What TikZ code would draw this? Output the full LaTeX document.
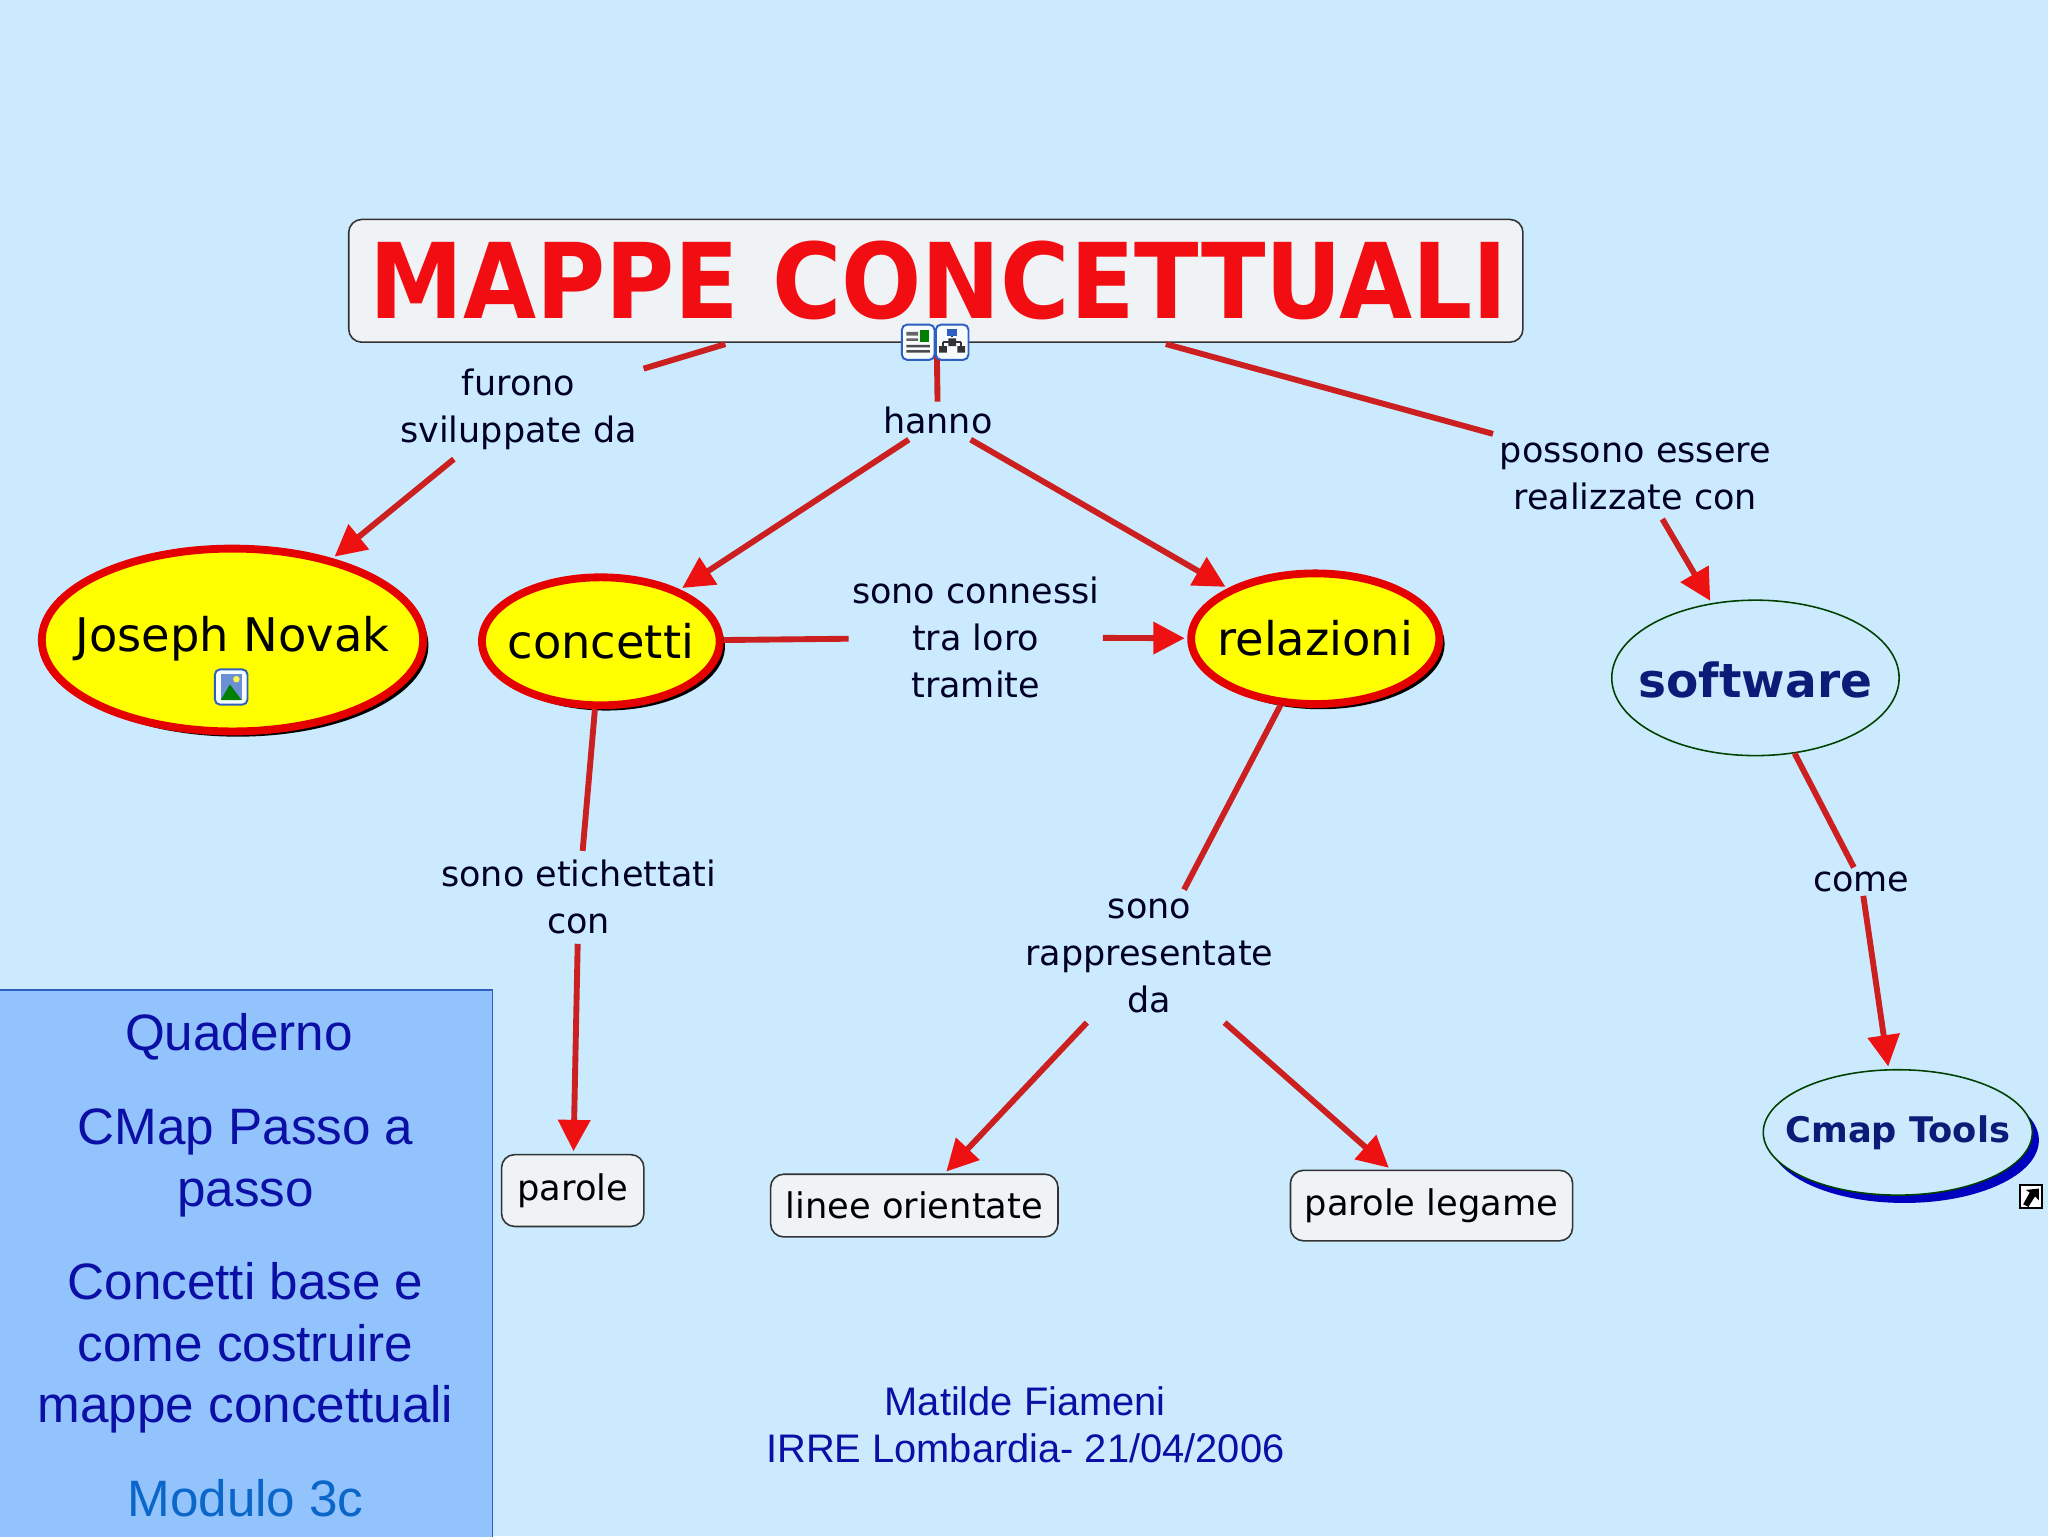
\documentclass[tikz,border=0pt]{standalone}
\usepackage{fontspec}
\setmainfont{DejaVu Sans}
\newfontfamily\arialfont{Liberation Sans}
\usetikzlibrary{arrows.meta,shapes.geometric,shadows}
\definecolor{bgblue}{HTML}{CBEAFD}
\definecolor{boxblue}{HTML}{92C3FD}
\definecolor{boxedge}{HTML}{2F5FC0}
\definecolor{linkred}{HTML}{CC1F1F}
\definecolor{tipred}{HTML}{EE1111}
\definecolor{titlered}{HTML}{F20D12}
\definecolor{softnavy}{HTML}{0C1B78}
\definecolor{bluetext}{HTML}{0B0FA5}
\definecolor{modtext}{HTML}{0A66C8}
\definecolor{hotyellow}{HTML}{FFFF00}
\definecolor{leafgrey}{HTML}{EFF3F5}
\newcommand{\flatbox}[1]{\makebox[0pt]{#1}}
\tikzset{
	linklabel/.style={inner xsep=5pt,inner ysep=7pt,align=center,text=black!85!blue,font=\fontsize{26.8}{36}\selectfont},
	link/.style={line width=4.5pt,linkred},
	linkarrow/.style={link,shorten >=2pt,-{Triangle[length=24pt,width=24pt,color=tipred]}},
	hotconcept/.style={ellipse,draw=red!90!black,line width=6pt,fill=hotyellow,inner sep=0pt,drop shadow={shadow xshift=4pt,shadow yshift=-4pt,fill=black,opacity=1},font=\fontsize{35.5}{40}\selectfont},
	softconcept/.style={ellipse,draw=black!75!green,line width=1.2pt,inner sep=0pt,text=softnavy,font=\bfseries\fontsize{36}{40}\selectfont},
	leaf/.style={rectangle,rounded corners=10pt,draw=black!80,line width=1.2pt,fill=leafgrey,inner sep=0pt,font=\fontsize{27}{36}\selectfont},
	iconbox/.style={rectangle,rounded corners=4pt,draw=boxedge,line width=1.5pt,fill=white!85!bgblue,inner sep=0pt,minimum width=25pt,minimum height=27pt},
	sidetext/.style={align=center,text=bluetext,font=\arialfont\fontsize{39.2}{47}\selectfont}
}
\begin{document}
\begin{tikzpicture}[x=1pt,y=-1pt]
	\useasboundingbox (0,0) rectangle (1568,1176);
	\fill[bgblue] (0,0) rectangle (1568,1176);

	\node (title) at (716.5,215)[leaf,minimum width=899pt,minimum height=94pt,text=titlered,font=\bfseries\fontsize{80}{90}\selectfont]{\hspace{4pt}\raisebox{2pt}{\scalebox{0.904}[1]{MAPPE CONCETTUALI}}};

	\node (furono) at (397,311)[linklabel]{\rule{0pt}{25pt}furono\\sviluppate da};
	\node (hanno) at (718,322)[linklabel,inner ysep=4pt]{hanno};
	\node (possono) at (1252,362)[linklabel]{\rule{0pt}{20pt}possono essere\\realizzate con};
	\node (connessi) at (747,488)[linklabel,inner xsep=2.5pt]{sono connessi\\tra loro\\tramite};
	\node (etichettati) at (443,687)[linklabel]{sono etichettati\\con};
	\node (rappresentate) at (880,732)[linklabel]{sono\\rappresentate\\da};
	\node (come) at (1425,675)[linklabel,inner ysep=3pt]{come};

	\node (novak) at (178,490)[hotconcept,minimum width=292pt,minimum height=140pt]{\flatbox{\raisebox{10pt}{Joseph Novak}}};
	\node (concetti) at (460,491)[hotconcept,minimum width=182pt,minimum height=98pt]{\flatbox{concetti}};
	\node (relazioni) at (1007,489)[hotconcept,minimum width=190pt,minimum height=100pt]{\flatbox{relazioni}};
	\node (software) at (1344,519)[softconcept,minimum width=220pt,minimum height=119pt]{\flatbox{\raisebox{-15pt}[0pt][0pt]{software}}};
	\node (cmap) at (1453,867)[softconcept,minimum width=206pt,minimum height=96pt,drop shadow={shadow xshift=5pt,shadow yshift=-6pt,fill=blue!75!black,opacity=1},fill=bgblue,font=\bfseries\fontsize{27}{36}\selectfont]{\flatbox{\raisebox{3pt}{Cmap Tools}}};

	\node (parole) at (438.5,911.5)[leaf,minimum width=109pt,minimum height=55pt]{parole};
	\node (linee) at (700,923)[leaf,minimum width=220pt,minimum height=48pt]{linee orientate};
	\node (legame) at (1096,923)[leaf,minimum width=216pt,minimum height=54pt]{parole legame};

	\draw[link,shorten <=3pt] (title) -- (furono);
	\draw[link,shorten <=3pt] (title) -- (hanno);
	\draw[link,shorten <=3pt] (title) -- (possono);
	\draw[linkarrow] (furono) -- (novak);
	\draw[linkarrow] (hanno) -- (concetti);
	\draw[linkarrow] (hanno) -- (relazioni);
	\draw[linkarrow] (possono) -- (software);
	\draw[link] (concetti) -- (connessi);
	\draw[linkarrow] (connessi) -- (relazioni);
	\draw[link] (concetti) -- (etichettati);
	\draw[linkarrow] (etichettati) -- (parole);
	\draw[link] (relazioni) -- (rappresentate);
	\draw[linkarrow] (rappresentate) -- (linee);
	\draw[linkarrow] (rappresentate) -- (legame);
	\draw[link] (software) -- (come);
	\draw[linkarrow] (come) -- (cmap);

	\node (sheeticon) at (703,262)[iconbox]{};
	\fill[black!60] (694,254) rectangle (703,257) (694,259) rectangle (703,261);
	\fill[black!50!green] (704,253) rectangle (711,262);
	\fill[black!70] (694,264) rectangle (712,266) (694,268) rectangle (712,270);
	\node (treeicon) at (729,262)[iconbox]{};
	\draw[black!80,line width=1.3pt] (729,254) -- (729,258) (722,262) -- (736,262) (722,262) -- (722,268) (736,262) -- (736,268);
	\fill[boxedge] (725,252) rectangle (733,257);
	\fill[black!80] (719,265) rectangle (725,270) (733,265) rectangle (739,270) (726,259) rectangle (732,265);
	\node (photoicon) at (177,526)[iconbox]{};
	\fill[boxedge!70] (169,516) rectangle (185,536);
	\fill[black!50!green] (169,536) -- (176,524) -- (185,536) -- cycle;
	\fill[yellow!70] (181,520) circle (2.5pt);
	\node (linkicon) at (1555,916)[rectangle,draw=black,line width=1.5pt,fill=white,inner sep=0pt,minimum width=17pt,minimum height=18pt]{};
	\fill[black] (1549,922) -- (1554,913) -- (1551,911) -- (1561,910) -- (1561,919) -- (1558,916) -- (1553,924) -- cycle;

	\node (sidebox) at (188,1000)[rectangle,draw=boxedge,line width=1.2pt,fill=boxblue,minimum width=378pt,minimum height=484pt]{};
	\node (quaderno) at (183,794)[sidetext]{Quaderno};
	\node (passo) at (188,890.5)[sidetext]{CMap Passo a\\passo};
	\node (base) at (188,1032)[sidetext]{Concetti base e\\come costruire\\mappe concettuali};
	\node (modulo) at (188,1147)[sidetext,text=modtext]{Modulo 3c};

	\node (autore) at (785,1091)[align=center,text=bluetext,font=\arialfont\fontsize{30.5}{36}\selectfont]{Matilde Fiameni\\IRRE Lombardia- 21/04/2006};
\end{tikzpicture}
\end{document}
